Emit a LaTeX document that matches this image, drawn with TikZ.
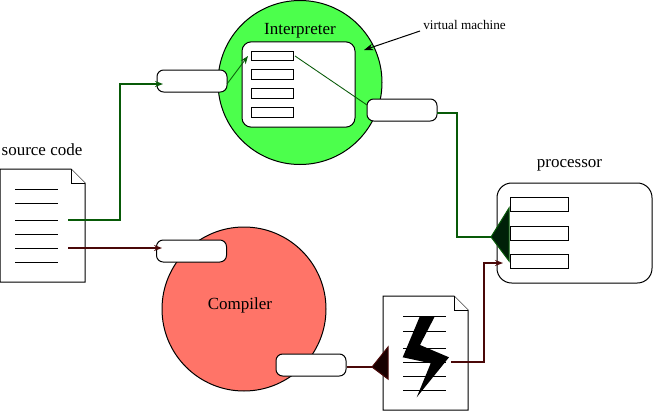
\documentclass[tikz,border=0pt]{standalone}
\usepackage{fontspec}
\setmainfont{Liberation Serif}
\usetikzlibrary{arrows.meta}
\definecolor{vmgreen}{RGB}{76,255,76}
\definecolor{compred}{RGB}{255,116,104}
\definecolor{wiregreen}{RGB}{8,90,8}
\definecolor{wiremaroon}{RGB}{74,8,8}
\definecolor{headgreen}{RGB}{0,32,8}
\definecolor{headmaroon}{RGB}{24,0,0}
\tikzset{
  x=0.75pt,y=-0.75pt,
  outl/.style={draw=black,line width=0.75pt},
  engine/.style={outl,circle,minimum size=123pt,inner sep=0pt},
  port/.style={outl,fill=white,rounded corners=5pt,minimum width=52.5pt,minimum height=16.5pt,inner sep=0pt},
  slot/.style={draw=black,line width=0.75pt,fill=white,minimum width=31.5pt,minimum height=7pt,inner sep=0pt},
  pslot/.style={draw=black,line width=0.75pt,fill=white,minimum width=43.5pt,minimum height=10.5pt,inner sep=0pt},
  txtline/.style={draw=black,line width=0.6pt},
  paper/.style={draw=black,line width=0.75pt,fill=white,line join=miter},
  gwire/.style={draw=wiregreen,line width=1.1pt},
  mwire/.style={draw=wiremaroon,line width=1.1pt},
  thinwire/.style={draw=wiregreen,line width=0.65pt},
  tip/.style={-{Stealth[length=6pt,width=4.5pt]}},
  biglabel/.style={font=\fontsize{12.75pt}{14pt}\selectfont,inner sep=0pt},
  smalllabel/.style={font=\fontsize{9.9pt}{11pt}\selectfont,inner sep=0pt},
}
\begin{document}
\begin{tikzpicture}
\useasboundingbox (0,0) rectangle (654,411);
% interpreter
\node[engine,fill=vmgreen] (interp) at (300,82.5) {};
\node[outl,fill=white,rounded corners=7pt,minimum width=84.75pt,minimum height=64pt,inner sep=0pt] (vm) at (298.5,84.5) {};
\node[slot] (s1) at (272,56) {};
\node[slot] (s2) at (272,74.5) {};
\node[slot] (s3) at (272,93.5) {};
\node[slot] (s4) at (272,112.5) {};
\node[biglabel] (interpLabel) at (300,31) {Interpreter};
\node[smalllabel] (vmLabel) at (464.5,25) {virtual machine};
\coordinate (vmLabelEnd) at (420,31);
\coordinate (vmTip) at (364,50);
\draw[line width=0.75pt,-{Stealth[length=7pt,width=5pt]}] (vmLabelEnd) -- (vmTip);
% compiler
\node[engine,fill=compred] (comp) at (244,309) {};
\node[biglabel] (compLabel) at (240,305) {Compiler};
% ports
\node[port] (p1) at (192,81) {};
\node[port] (p2) at (402,110) {};
\node[port] (p3) at (191.5,251) {};
\node[port] (p4) at (311,365) {};
% source document
\draw[paper] (0,169) -- (71,169) -- (85,183) -- (85,282) -- (0,282) -- cycle;
\draw[paper] (71,169) -- (71,183) -- (85,183);
\foreach \yy in {189,203,220,234,248,262} \draw[txtline] (15,\yy) -- (58,\yy);
\node[biglabel] (srcLabel) at (42,150) {source code};
% compiled document
\draw[paper] (383,296) -- (454,296) -- (468,310) -- (468,410) -- (383,410) -- cycle;
\draw[paper] (454,296) -- (454,310) -- (468,310);
\foreach \yy in {316,331,348,362,376,390} \draw[txtline] (403,\yy) -- (446,\yy);
\fill[black] (420,316) -- (435,316) -- (420,345) -- (449,357.3) -- (416.7,397.3) -- (430.7,363.3) -- (402.7,357.3) -- cycle;
% processor
\node[outl,fill=white,rounded corners=11pt,minimum width=116.25pt,minimum height=75pt,inner sep=0pt] (cpu) at (574.5,233) {};
\node[pslot] (c1) at (539,204.5) {};
\node[pslot] (c2) at (539,233) {};
\node[pslot] (c3) at (539,261) {};
\node[biglabel] (cpuLabel) at (569.5,165) {processor};
% connector ends
\coordinate (srcG) at (68,220);
\coordinate (srcM) at (68,248);
\coordinate (p1in) at (163,84);
\coordinate (p1out) at (227,84);
\coordinate (s1in) at (248,56);
\coordinate (s1out) at (295,56);
\coordinate (p2in) at (367,105);
\coordinate (p2out) at (437,113);
\coordinate (p3in) at (162,248);
\coordinate (p4out) at (347,367);
\coordinate (cpuG) at (491,237);
\coordinate (cpuM) at (503,263);
\coordinate (binOut) at (451,362);
\coordinate (binIn) at (372,367);
% green path
\draw[gwire,tip] (srcG) -- (120,220) -- (120,84) -- (p1in);
\draw[thinwire,tip] (p1out) -- (s1in);
\draw[thinwire] (s1out) -- (p2in);
\draw[gwire] (p2out) -- (457,113) -- (457,237) -- (cpuG);
\draw[draw=wiregreen,fill=headgreen,line width=0.75pt,line join=miter] (cpuG) -- (509,208) -- (509,261) -- cycle;
% maroon path
\draw[mwire,tip] (srcM) -- (p3in);
\draw[mwire] (p4out) -- (binIn);
\draw[draw=wiremaroon,fill=headmaroon,line width=0.75pt,line join=miter] (binIn) -- (388,347) -- (388,379) -- cycle;
\draw[mwire,tip] (binOut) -- (484,362) -- (484,263) -- (cpuM);
\end{tikzpicture}
\end{document}
